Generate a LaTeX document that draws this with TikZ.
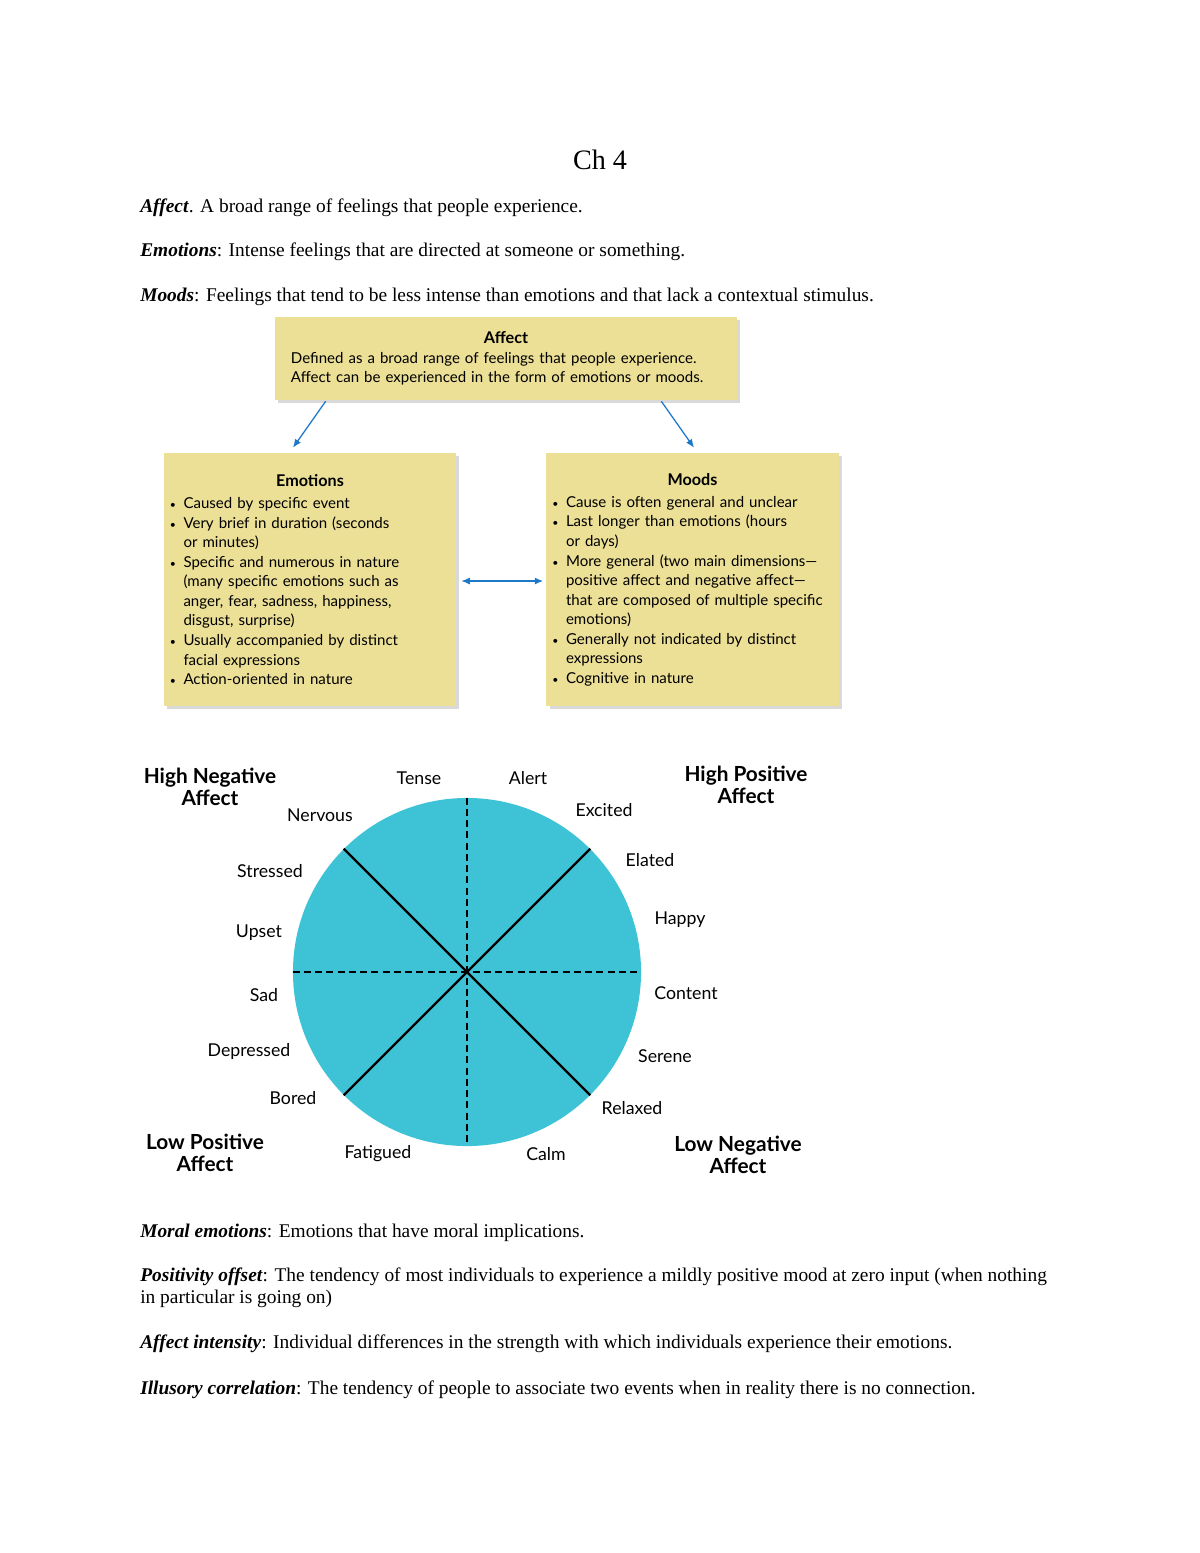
\documentclass[tikz,border=0pt]{standalone}
\usepackage{fontspec}
\setmainfont{Liberation Serif}
\newfontfamily\boxfont{Lato}
\usetikzlibrary{arrows.meta,shadows,calc}
\definecolor{boxYellow}{RGB}{236,223,150}
\definecolor{wheelCyan}{RGB}{62,194,214}
\definecolor{arrowBlue}{RGB}{30,120,200}
\tikzset{
  >={Latex[length=6pt,width=5pt]},
  defline/.style={anchor=west, inner sep=0pt, align=left, font=\fontsize{13.8}{15.6}\selectfont},
  notebox/.style={fill=boxYellow, inner ysep=6pt,
    drop shadow={shadow xshift=0.08cm, shadow yshift=-0.08cm, opacity=0.3},
    font=\boxfont\fontsize{10.7}{13.9}\selectfont},
  flow/.style={draw=arrowBlue, line width=0.9pt, ->},
  mood/.style={font=\boxfont\fontsize{12.6}{14}\selectfont, inner sep=0pt},
  corner/.style={font=\boxfont\bfseries\fontsize{14.8}{15.6}\selectfont, align=center, inner sep=0pt},
}
\newcommand{\itm}[1]{\par\hangindent=0.9em\hangafter=1\noindent\makebox[0.9em][l]{\scalebox{0.7}{\textbullet}}#1}

\begin{document}
\begin{tikzpicture}[x=0.025cm, y=-0.025cm]
  \useasboundingbox (0,0) rectangle (1200,1553);

  % heading and definitions
  \node (title) at (600,160) {\fontsize{20}{24}\selectfont Ch 4};
  \node[defline] (defAffect) at (140,208) {\textbf{\textit{Affect}}. A broad range of feelings that people experience.};
  \node[defline] (defEmotions) at (140,252) {\textbf{\textit{Emotions}}: Intense feelings that are directed at someone or something.};
  \node[defline] (defMoods) at (140,297) {\textbf{\textit{Moods}}: Feelings that tend to be less intense than emotions and that lack a contextual stimulus.};

  % affect boxes
  \node[notebox, text width=10.75cm, inner xsep=0.4cm, minimum height=2.075cm] (affect) at (506,358.5)
    {\centering{\bfseries\fontsize{11.5}{13.9}\selectfont Affect}\par\raggedright
     Defined as a broad range of feelings that people experience.\newline
     Affect can be experienced in the form of emotions or moods.\par};
  \node[notebox, text width=7cm, inner xsep=0.15cm, minimum height=6.325cm] (emotions) at (310,579.5)
    {\centering{\bfseries\fontsize{11.5}{13.9}\selectfont Emotions}\par\vspace{2pt}\raggedright
     \itm{Caused by specific event}
     \itm{Very brief in duration (seconds\newline or minutes)}
     \itm{Specific and numerous in nature\newline (many specific emotions such as\newline anger, fear, sadness, happiness,\newline disgust, surprise)}
     \itm{Usually accompanied by distinct\newline facial expressions}
     \itm{Action-oriented in nature}\par};
  \node[notebox, text width=7cm, inner xsep=0.15cm, minimum height=6.325cm] (moods) at (692.5,579.5)
    {\centering{\bfseries\fontsize{11.5}{13.9}\selectfont Moods}\par\vspace{2pt}\raggedright
     \itm{Cause is often general and unclear}
     \itm{Last longer than emotions (hours\newline or days)}
     \itm{More general (two main dimensions—\newline positive affect and negative affect—\newline that are composed of multiple specific\newline emotions)}
     \itm{Generally not indicated by distinct\newline expressions}
     \itm{Cognitive in nature}\par};
  \draw[flow] ($(affect.south west)+(51,1)$) -- ($(emotions.north)+(-17,-5)$);
  \draw[flow] ($(affect.south east)+(-76,1)$) -- ($(moods.north)+(1.5,-5)$);
  \draw[flow, <->] ($(emotions.east)+(5,1.5)$) -- ($(moods.west)+(-3,1.5)$);

  % mood wheel
  \node[circle, fill=wheelCyan, minimum size=8.7cm, inner sep=0pt] (wheel) at (467,972) {};
  \draw[line width=1.6pt] (wheel.45) -- (wheel.225);
  \draw[line width=1.6pt] (wheel.135) -- (wheel.-45);
  \draw[line width=1pt, dash pattern=on 5pt off 3pt] (wheel.north) -- (wheel.south);
  \draw[line width=1pt, dash pattern=on 5pt off 3pt] (wheel.west) -- (wheel.east);
  \foreach \word/\x/\y in {Tense/419/778, Alert/528/778, Nervous/320/815, Excited/604/810,
      Stressed/270/871, Elated/650/860, Upset/259/933, Happy/680/920, Sad/264/995,
      Content/686/993, Depressed/249/1051, Serene/665/1056, Bored/293/1098,
      Relaxed/632/1108, Fatigued/378/1154, Calm/546/1154}
    \node[mood] (\word) at (\x,\y) {\word};
  \node[corner] (hiNeg) at (210,787) {High Negative\\Affect};
  \node[corner] (hiPos) at (746,785) {High Positive\\Affect};
  \node[corner] (loPos) at (205,1153) {Low Positive\\Affect};
  \node[corner] (loNeg) at (738,1155) {Low Negative\\Affect};

  % more definitions
  \node[defline] (defMoral) at (140,1233) {\textbf{\textit{Moral emotions}}: Emotions that have moral implications.};
  \node[defline] (defOffset) at (140,1288) {\textbf{\textit{Positivity offset}}: The tendency of most individuals to experience a mildly positive mood at zero input (when nothing\\in particular is going on)};
  \node[defline] (defIntensity) at (140,1344) {\textbf{\textit{Affect intensity}}: Individual differences in the strength with which individuals experience their emotions.};
  \node[defline] (defIllusory) at (140,1390) {\textbf{\textit{Illusory correlation}}: The tendency of people to associate two events when in reality there is no connection.};
\end{tikzpicture}
\end{document}
